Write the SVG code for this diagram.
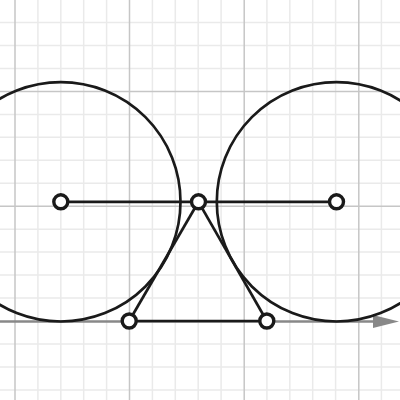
<svg xmlns="http://www.w3.org/2000/svg" width="400" height="400" viewBox="0 0 400 400">
<defs>
<style>
.minor{stroke:#eaeaea;stroke-width:1.5}
.major{stroke:#c6c6c6;stroke-width:1.5}
.shape{fill:none;stroke:#1a1a1a;stroke-width:2.7}
.pt{fill:#ffffff;stroke:#1a1a1a;stroke-width:3.4}
</style>
<marker id="arr" markerWidth="26" markerHeight="14" refX="0" refY="6.5" orient="auto" markerUnits="userSpaceOnUse">
<path d="M0,0 L26,6.5 L0,13 Z" fill="#888"/>
</marker>
</defs>
<rect width="400" height="400" fill="#ffffff"/>
<g id="grid">
<g class="minor">
<line x1="37.9" y1="0" x2="37.9" y2="400"/><line x1="60.8" y1="0" x2="60.8" y2="400"/><line x1="83.7" y1="0" x2="83.7" y2="400"/><line x1="106.6" y1="0" x2="106.6" y2="400"/>
<line x1="152.4" y1="0" x2="152.4" y2="400"/><line x1="175.3" y1="0" x2="175.3" y2="400"/><line x1="198.2" y1="0" x2="198.2" y2="400"/><line x1="221.1" y1="0" x2="221.1" y2="400"/>
<line x1="266.9" y1="0" x2="266.9" y2="400"/><line x1="289.8" y1="0" x2="289.8" y2="400"/><line x1="312.7" y1="0" x2="312.7" y2="400"/><line x1="335.6" y1="0" x2="335.6" y2="400"/>
<line x1="381.4" y1="0" x2="381.4" y2="400"/>
<line x1="0" y1="22.5" x2="400" y2="22.5"/><line x1="0" y1="45.5" x2="400" y2="45.5"/><line x1="0" y1="68.4" x2="400" y2="68.4"/>
<line x1="0" y1="114.4" x2="400" y2="114.4"/><line x1="0" y1="137.3" x2="400" y2="137.3"/><line x1="0" y1="160.3" x2="400" y2="160.3"/><line x1="0" y1="183.2" x2="400" y2="183.2"/>
<line x1="0" y1="229.2" x2="400" y2="229.2"/><line x1="0" y1="252.1" x2="400" y2="252.1"/><line x1="0" y1="275.1" x2="400" y2="275.1"/><line x1="0" y1="298" x2="400" y2="298"/>
<line x1="0" y1="344" x2="400" y2="344"/><line x1="0" y1="367" x2="400" y2="367"/><line x1="0" y1="390" x2="400" y2="390"/>
</g>
<g class="major">
<line x1="15" y1="0" x2="15" y2="400"/><line x1="129.5" y1="0" x2="129.5" y2="400"/><line x1="244.2" y1="0" x2="244.2" y2="400"/><line x1="358.8" y1="0" x2="358.8" y2="400"/>
<line x1="0" y1="91.4" x2="400" y2="91.4"/><line x1="0" y1="206.3" x2="400" y2="206.3"/>
</g>
<line x1="0" y1="321.5" x2="373" y2="321.5" stroke="#888" stroke-width="2.5" marker-end="url(#arr)"/>
</g>
<g id="circles" class="shape">
<circle id="circleLeft" cx="60.8" cy="201.8" r="119.7"/>
<circle id="circleRight" cx="336.5" cy="201.8" r="119.7"/>
</g>
<g id="connectors" class="shape">
<line x1="60.8" y1="201.8" x2="336.5" y2="201.8"/>
<line x1="129.2" y1="321" x2="266.8" y2="321"/>
<line x1="198.5" y1="201.8" x2="129.2" y2="321"/>
<line x1="198.5" y1="201.8" x2="266.8" y2="321"/>
</g>
<g id="points">
<circle id="pLeft" class="pt" cx="60.8" cy="201.8" r="7"/>
<circle id="pTop" class="pt" cx="198.5" cy="201.8" r="7"/>
<circle id="pRight" class="pt" cx="336.5" cy="201.8" r="7"/>
<circle id="pBL" class="pt" cx="129.2" cy="321" r="7"/>
<circle id="pBR" class="pt" cx="266.8" cy="321" r="7"/>
</g>
</svg>
